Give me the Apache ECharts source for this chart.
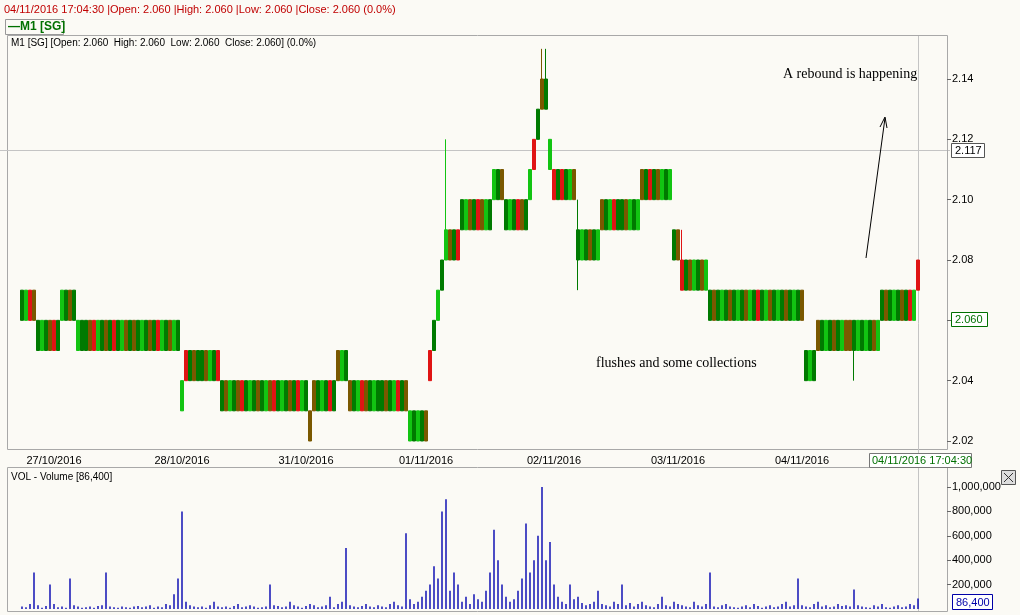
<!DOCTYPE html>
<html><head><meta charset="utf-8">
<script src="https://cdn.jsdelivr.net/npm/echarts@6/dist/echarts.min.js"></script>
<style>html,body{margin:0;padding:0;background:#fbfaf5}#c{width:1020px;height:615px}</style>
</head><body><div id="c"></div>
<script>
// body lower bound in cents above 2.00 (body spans base..base+0.01)
const baseLevels = [
 6,6,6,6, 5,5,5,5,5,5, 6,6,6,6,
 5,5,5,5,5,5,5,5,5,5,5,5,5,5,5,5,5,5,5,5,5,5,5,5,5,5,
 3,4,4, 4,4,4,4,4,4,4,
 3,3,3,3,3,3,3,3,3,3,3,3,3,3,3,3,3,3,3,3,3,3,
 2, 3,3,3,3,3,3, 4,4,4,
 3,3,3,3,3,3,3,3,3,3,3,3,3,3,3,
 2,2,2,2,2,
 4,5,6,7, 8,8,8,8,
 9,9,9,9,9,9,9,9,
 10,10,10,
 9,9,9,9,9,9,
 10,11,12,13,13,11,
 10,10,10,10,10,10,
 8, 8,8,8,8,8,
 9,9,9,9,9,9,9,9,9,9,
 10,10,10,10,10,10,10,10,
 8,8,7, 7,7,7,7,7,7,
 6,6,6,6,6,6,6,6,6,6,6,6,6,6,6,6,6,6,6,6,6,6,6,6,
 4,4,4,
 5,5,5,5,5,5,5,5,5,5,5,5,5,5,5,5,
 6,6,6,6,6,6,6,6,6,
 7
];
// per-bar colour codes: g dark green, G bright green, r red, b brown
const colourCodes =
 "gGrbgGgbrgGgbgG"+"ggbrGgbgrgGbgbg"+"GgbgrGgbGgGrgbg"+"gbGgrgbGgbrgGgb"+"gGbrgGgbgrGgbbg"+
 "GgrgbGgbgGrbgGg"+"gbgGrgbGgGgbrgG"+"gGbgrgGbgrbGgGg"+"bgGgrbgGrgbgGrg"+"rgGbgGgbgGbgGrg"+
 "gbGgGbgrgbGgGgb"+"rgbGgbGgbgGgbgG"+"gbGgrgGbgGgbgGg"+"bgGgbgGgbgGbbgG"+"gGgbGgbgGgbgrGr";
// extra wicks [low, high] in price
const wicks = {72:[2.02,2.03],106:[2.08,2.12],118:[2.10,2.11],130:[2.13,2.15],131:[2.13,2.15],132:[2.11,2.12],139:[2.07,2.10],165:[2.07,2.09],208:[2.04,2.06]};
// volume in thousands
const volumes = [
 20,15,40,300,30,10,25,200,40,15,20,10,250,30,20,
 10,15,20,10,25,30,300,20,15,10,20,15,10,20,25,
 15,20,30,10,20,15,40,30,120,250,800,60,30,20,15,
 20,10,30,60,20,15,20,10,25,40,15,20,30,20,10,
 15,20,200,30,25,15,20,60,30,20,10,25,40,30,15,
 20,30,100,15,40,60,500,30,20,15,25,40,20,15,30,
 20,15,40,60,30,20,620,80,40,60,100,150,200,350,250,
 800,900,150,300,200,60,100,40,120,80,60,150,300,650,400,
 200,100,60,80,150,250,700,300,400,600,1000,400,550,200,100,
 60,40,200,80,100,50,30,40,60,150,40,30,20,60,40,
 200,30,50,20,40,60,30,20,15,40,100,30,20,60,40,
 30,20,15,60,30,20,40,300,20,15,30,40,20,15,10,
 20,30,15,40,25,10,20,30,15,20,40,60,20,30,250,
 30,20,15,40,60,20,30,15,20,40,25,30,20,160,30,
 20,15,10,30,20,40,15,10,20,30,15,20,40,30,86.4
];
const dateLabels = {8:'27/10/2016',40:'28/10/2016',71:'31/10/2016',101:'01/11/2016',133:'02/11/2016',164:'03/11/2016',195:'04/11/2016'};

const palette = {g:'#007a00',G:'#12c412',r:'#e01414',b:'#7a5800'};
const cats = baseLevels.map((_,i)=>String(i));
const candles = baseLevels.map((b,i)=>{
  const c = colourCodes[i] || 'g';
  const lo = 2 + b/100, hi = lo + 0.01;
  let low = lo, high = hi;
  if (wicks[i]) { low = Math.min(low, wicks[i][0]); high = Math.max(high, wicks[i][1]); }
  const up = (c==='g'||c==='G');
  const col = palette[c];
  return {value: up ? [lo,hi,low,high] : [hi,lo,low,high],
    itemStyle:{color:col,color0:col,borderColor:col,borderColor0:col,borderColorDoji:col}};
});
const vols = volumes.map(v=>v*1000);

const chart = echarts.init(document.getElementById('c'));
const grey = '#a8a8a8';
chart.setOption({
  animation:false,
  backgroundColor:'#fbfaf5',
  grid:[{left:20,right:100,top:79,bottom:174},{left:20,right:100,top:487,bottom:6}],
  xAxis:[
    {type:'category',data:cats,gridIndex:0,axisLine:{show:false},axisTick:{show:false},
     axisLabel:{interval:0,margin:14,fontSize:11,color:'#000',fontFamily:'Liberation Sans',
       formatter:(v)=>dateLabels[v]||''}},
    {type:'category',data:cats,gridIndex:1,axisLine:{show:false},axisTick:{show:false},axisLabel:{show:false}}
  ],
  yAxis:[
    {type:'value',gridIndex:0,position:'right',offset:27,min:2.02,max:2.14,interval:0.02,scale:true,
     splitLine:{show:false},axisLine:{show:true,lineStyle:{color:grey}},axisTick:{show:true,length:4,lineStyle:{color:'#666'}},
     axisLabel:{fontSize:11,color:'#000',margin:5,fontFamily:'Liberation Sans',
       formatter:v=>(Math.abs(v-2.06)<1e-6?'':v.toFixed(2))}},
    {type:'value',gridIndex:1,position:'right',offset:27,min:0,max:1000000,interval:200000,
     splitLine:{show:false},axisLine:{show:true,lineStyle:{color:grey}},axisTick:{show:true,length:4,lineStyle:{color:'#666'}},
     axisLabel:{showMinLabel:false,fontSize:11,color:'#000',margin:5,fontFamily:'Liberation Sans',
       formatter:v=>v.toLocaleString('en-US')}}
  ],
  series:[
    {type:'candlestick',xAxisIndex:0,yAxisIndex:0,data:candles,barWidth:3,clip:false},
    {type:'bar',xAxisIndex:1,yAxisIndex:1,data:vols,barWidth:1.4,itemStyle:{color:'#0000b0'}}
  ],
  graphic:[
    {type:'rect',shape:{x:7.5,y:35.5,width:940,height:414},style:{fill:null,stroke:grey},z:-1},
    {type:'rect',shape:{x:7.5,y:467.5,width:940,height:144},style:{fill:null,stroke:grey},z:-1},
    {type:'line',shape:{x1:0,y1:150.5,x2:950,y2:150.5},style:{stroke:'#c4c4c4'},z:-1},
    {type:'line',shape:{x1:918.5,y1:36,x2:918.5,y2:611},style:{stroke:'#c4c4c4'},z:-1},
    {type:'text',left:4,top:4,style:{text:'04/11/2016 17:04:30 |Open: 2.060 |High: 2.060 |Low: 2.060 |Close: 2.060 (0.0%)',fill:'#c00000',font:'11px Liberation Sans'}},
    {type:'rect',shape:{x:5.5,y:19.5,width:58,height:15},style:{fill:'#fbfaf5',stroke:'#999'}},
    {type:'text',left:8,top:21,style:{text:'—M1 [SG]',fill:'#007000',font:'bold 12px Liberation Sans'}},
    {type:'text',left:11,top:38,style:{text:'M1 [SG] [Open: 2.060  High: 2.060  Low: 2.060  Close: 2.060] (0.0%)',fill:'#000',font:'10px Liberation Sans'}},
    {type:'text',left:11,top:472,style:{text:'VOL - Volume [86,400]',fill:'#000',font:'10px Liberation Sans'}},
    {type:'group',z:100,children:[
      {type:'rect',shape:{x:951.5,y:143.5,width:33,height:14},style:{fill:'#fff',stroke:'#555'}},
      {type:'text',x:955,y:145,style:{text:'2.117',fill:'#000',font:'11px Liberation Sans'}},
      {type:'rect',shape:{x:951.5,y:312.5,width:36,height:14},style:{fill:'#fff',stroke:'#007000'}},
      {type:'text',x:955,y:314,style:{text:'2.060',fill:'#007000',font:'11px Liberation Sans'}},
      {type:'rect',shape:{x:869.5,y:453.5,width:102,height:14},style:{fill:'#fff',stroke:'#777'}},
      {type:'text',x:872,y:455,style:{text:'04/11/2016 17:04:30',fill:'#007000',font:'11px Liberation Sans'}},
      {type:'rect',shape:{x:952.5,y:594.5,width:40,height:15},style:{fill:'#fff',stroke:'#0000a8'}},
      {type:'text',x:956,y:597,style:{text:'86,400',fill:'#0000a8',font:'11px Liberation Sans'}},
      {type:'rect',shape:{x:1001.5,y:470.5,width:14,height:14},style:{fill:'#ddd',stroke:'#555'}},
      {type:'line',shape:{x1:1004,y1:473,x2:1013,y2:482},style:{stroke:'#333'}},
      {type:'line',shape:{x1:1013,y1:473,x2:1004,y2:482},style:{stroke:'#333'}}
    ]},
    {type:'text',left:783,top:67,style:{text:'A rebound is happening',fill:'#000',font:'14px Liberation Serif'}},
    {type:'text',left:596,top:356,style:{text:'flushes and some collections',fill:'#000',font:'14px Liberation Serif'}},
    {type:'line',shape:{x1:866,y1:258,x2:885,y2:118},style:{stroke:'#000',lineWidth:1}},
    {type:'polyline',shape:{points:[[880,127],[885,117],[887,128]]},style:{stroke:'#000',fill:null}}
  ]
});
</script></body></html>
